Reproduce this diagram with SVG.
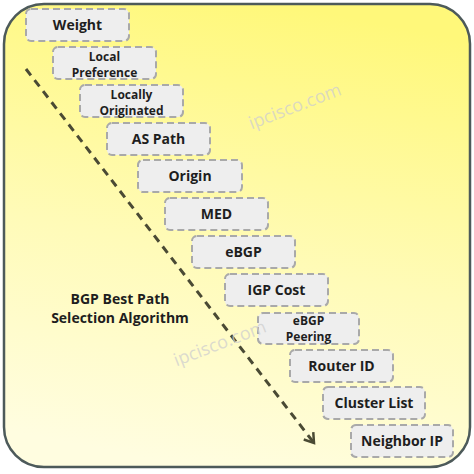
<svg xmlns="http://www.w3.org/2000/svg" width="474" height="474" viewBox="0 0 474 474">
<defs>
<linearGradient id="bg" x1="0.6" y1="0" x2="0.4" y2="1">
<stop offset="0" stop-color="#fff87a"/>
<stop offset="0.55" stop-color="#fffbb8"/>
<stop offset="1" stop-color="#fffde0"/>
</linearGradient>
<marker id="ah" markerWidth="14" markerHeight="14" refX="11" refY="7" orient="auto" markerUnits="userSpaceOnUse">
<polyline points="2,1 11,7 2,13" fill="none" stroke="#4a4a34" stroke-width="2.5"/>
</marker>
<style>
.box{fill:#eeeeee;stroke:#a9a9a9;stroke-width:2;stroke-dasharray:7 4}
.t{font-family:"Open Sans","Liberation Sans",sans-serif;font-weight:700;font-size:14px;fill:#1e1e1e;text-anchor:middle}
.s{font-size:12px}
.wm{font-family:"Open Sans","Liberation Sans",sans-serif;font-size:18px;fill:#cfcfcf;fill-opacity:0.75}
</style>
</defs>
<rect x="4" y="4" width="466" height="463" rx="40" ry="40" fill="url(#bg)" stroke="#4d5a5a" stroke-width="2.5"/>
<text class="wm" transform="translate(297,112) rotate(-21)" text-anchor="middle">ipcisco.com</text>
<g id="connectors">
<line x1="26" y1="69" x2="314" y2="443" stroke="#4a4a34" stroke-width="3" stroke-dasharray="8 6" marker-end="url(#ah)"/>
</g>
<g id="n1"><rect class="box" x="26" y="9" width="103" height="32" rx="5"/><text class="t" x="77.5" y="30">Weight</text></g>
<g id="n2"><rect class="box" x="53" y="47" width="103" height="32" rx="5"/><text class="t s" x="104.5" y="61">Local</text><text class="t s" x="104.5" y="77">Preference</text></g>
<g id="n3"><rect class="box" x="80" y="85" width="103" height="32" rx="5"/><text class="t s" x="131.5" y="99">Locally</text><text class="t s" x="131.5" y="115">Originated</text></g>
<g id="n4"><rect class="box" x="107" y="123" width="103" height="32" rx="5"/><text class="t" x="158.5" y="144">AS Path</text></g>
<g id="n5"><rect class="box" x="138" y="160" width="104" height="32" rx="5"/><text class="t" x="190" y="181">Origin</text></g>
<g id="n6"><rect class="box" x="165" y="198" width="103" height="32" rx="5"/><text class="t" x="216.5" y="219">MED</text></g>
<g id="n7"><rect class="box" x="192" y="236" width="103" height="32" rx="5"/><text class="t" x="243.5" y="257">eBGP</text></g>
<g id="n8"><rect class="box" x="225" y="274" width="103" height="32" rx="5"/><text class="t" x="276.5" y="295">IGP Cost</text></g>
<g id="n9"><rect class="box" x="258" y="313" width="101" height="31" rx="5"/><text class="t s" x="308.5" y="325">eBGP</text><text class="t s" x="308.5" y="341">Peering</text></g>
<g id="n10"><rect class="box" x="290" y="350" width="103" height="32" rx="5"/><text class="t" x="341.5" y="371">Router ID</text></g>
<g id="n11"><rect class="box" x="323" y="387" width="102" height="32" rx="5"/><text class="t" x="374" y="408">Cluster List</text></g>
<g id="n12"><rect class="box" x="351" y="425" width="102" height="32" rx="5"/><text class="t" x="402" y="446">Neighbor IP</text></g>
<g id="label"><text class="t" x="120" y="304">BGP Best Path</text><text class="t" x="120" y="323">Selection Algorithm</text></g>
<text class="wm" transform="translate(222,349) rotate(-21)" text-anchor="middle">ipcisco.com</text>
</svg>
